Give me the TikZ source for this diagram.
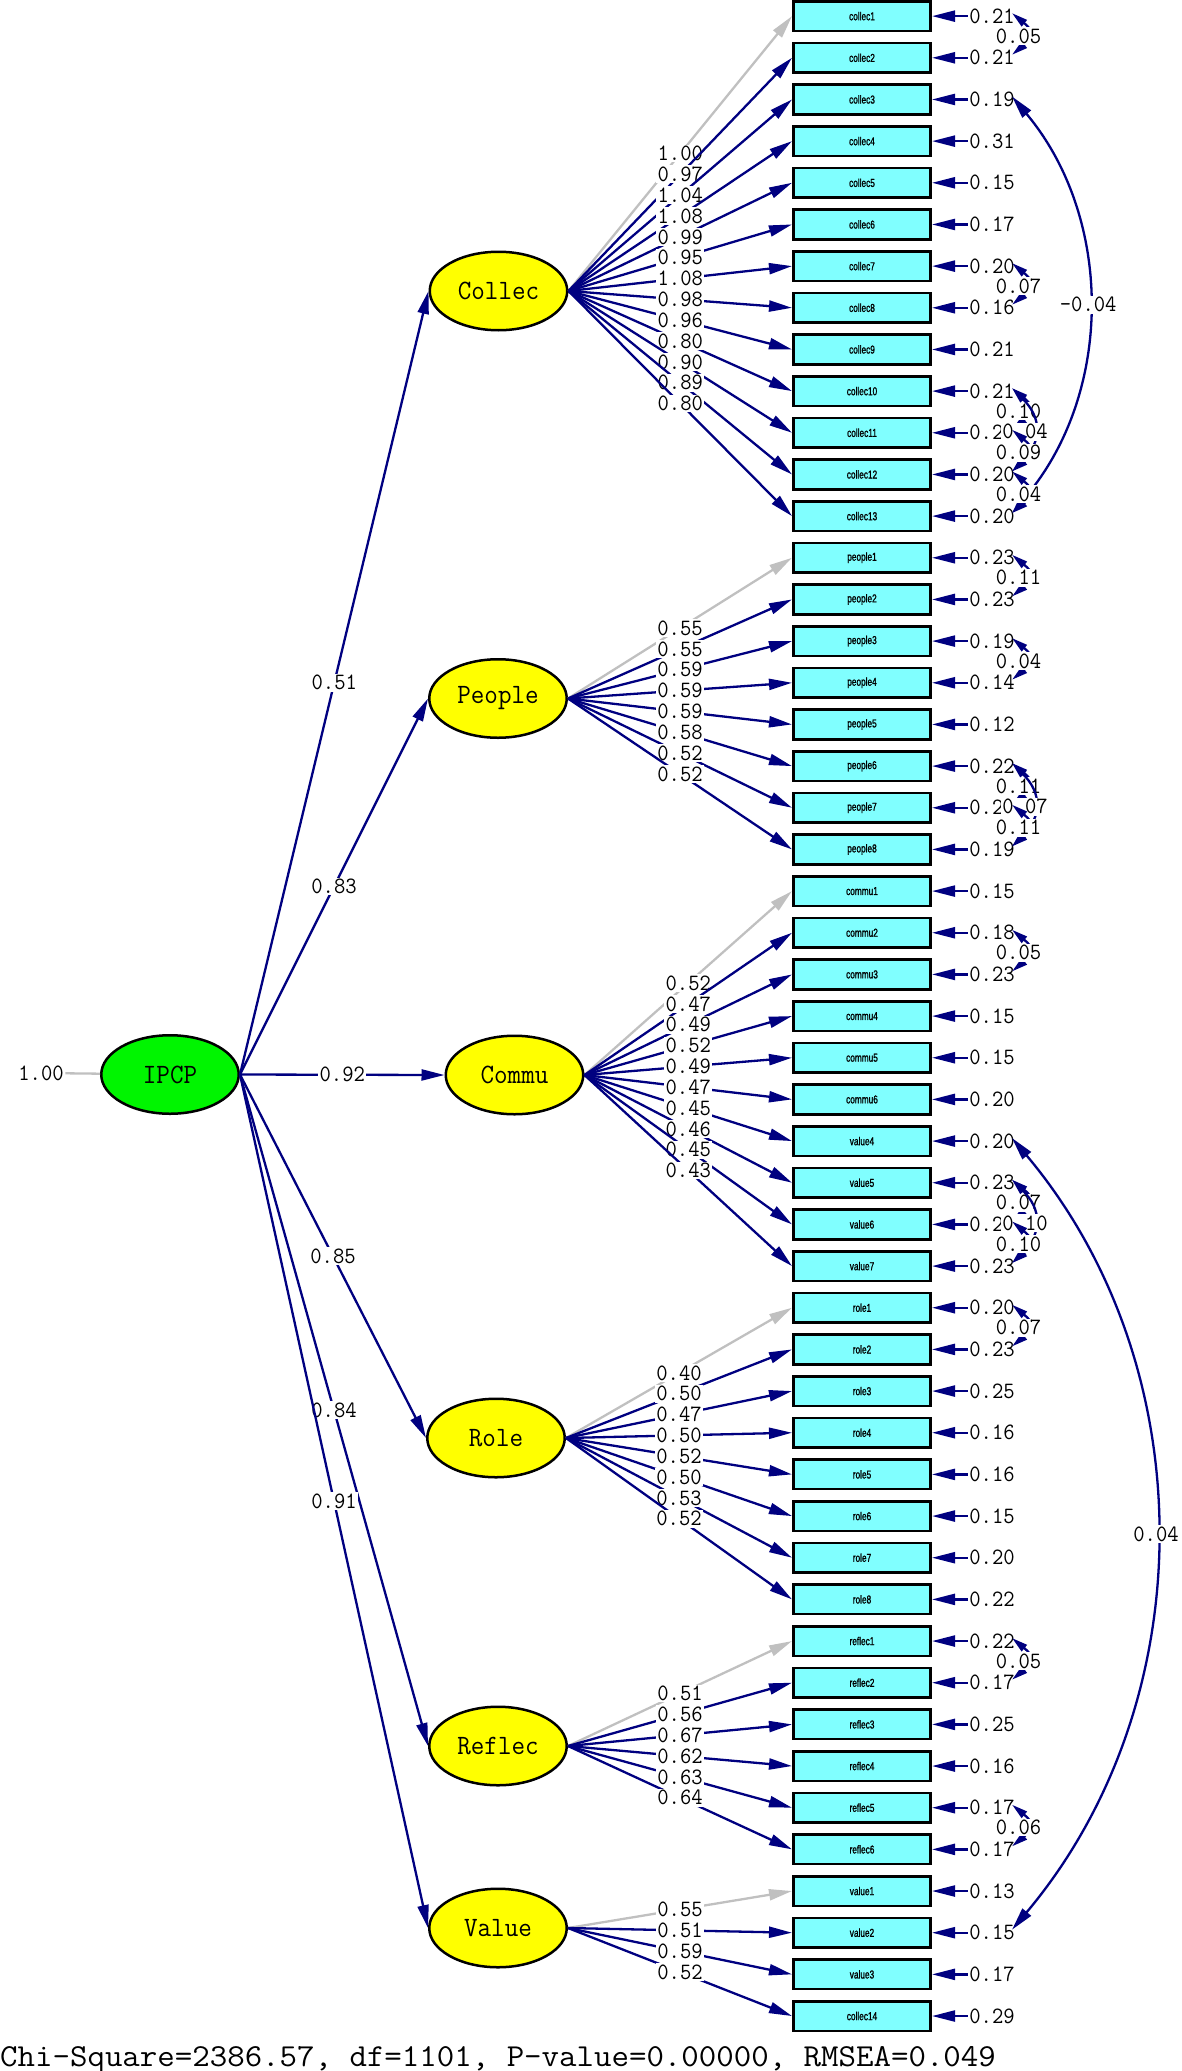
\documentclass[tikz,border=0pt]{standalone}
\usepackage{fontspec}
\usetikzlibrary{arrows.meta,shapes.geometric}
\newfontfamily\labfont[FakeStretch=0.94]{Latin Modern Mono}
\newfontfamily\fitfont[FakeStretch=1.06]{Latin Modern Mono}
\newfontfamily\obsfont[FakeStretch=0.72,FakeBold=1.2]{Liberation Sans}
\definecolor{navy}{RGB}{0,0,128}
\definecolor{fixgrey}{RGB}{192,192,192}
\definecolor{boxcyan}{RGB}{128,255,255}
\definecolor{latyellow}{RGB}{255,255,0}
\definecolor{latgreen}{RGB}{0,245,0}
\begin{document}
\begin{tikzpicture}[x=1pt,y=-1pt,
  obs/.style={draw=black, line width=2.6pt, fill=boxcyan, minimum width=137.4pt, minimum height=29.6pt, inner sep=0pt, font=\obsfont\fontsize{11.5}{11.5}\selectfont},
  lat/.style={ellipse, draw=black, line width=2.5pt, fill=latyellow, minimum width=137.5pt, minimum height=78.5pt, inner sep=0pt, font=\labfont\fontsize{28}{30}\selectfont},
  num/.style={inner sep=1.5pt, font=\labfont\fontsize{23.4}{24}\selectfont},
  lv/.style={num, fill=white, pos=0.5},
  cvl/.style={num, fill=white},
  load/.style={line width=2.3pt, -{Triangle[length=23pt,width=11pt]}},
  cov/.style={draw=navy, line width=2.3pt, {Triangle[length=16pt,width=8pt]}-{Triangle[length=16pt,width=8pt]}},
  covbig/.style={draw=navy, line width=2.3pt, {Triangle[length=23pt,width=11pt]}-{Triangle[length=23pt,width=11pt]}}
]
\useasboundingbox (0,0) rectangle (1181,2071);

% observed variables, error variances
\foreach \i/\nm/\ev in {0/collec1/0.21, 1/collec2/0.21, 2/collec3/0.19, 3/collec4/0.31, 4/collec5/0.15, 5/collec6/0.17, 6/collec7/0.20, 7/collec8/0.16, 8/collec9/0.21, 9/collec10/0.21, 10/collec11/0.20, 11/collec12/0.20, 12/collec13/0.20,
  13/people1/0.23, 14/people2/0.23, 15/people3/0.19, 16/people4/0.14, 17/people5/0.12, 18/people6/0.22, 19/people7/0.20, 20/people8/0.19,
  21/commu1/0.15, 22/commu2/0.18, 23/commu3/0.23, 24/commu4/0.15, 25/commu5/0.15, 26/commu6/0.20,
  27/value4/0.20, 28/value5/0.23, 29/value6/0.20, 30/value7/0.23,
  31/role1/0.20, 32/role2/0.23, 33/role3/0.25, 34/role4/0.16, 35/role5/0.16, 36/role6/0.15, 37/role7/0.20, 38/role8/0.22,
  39/reflec1/0.22, 40/reflec2/0.17, 41/reflec3/0.25, 42/reflec4/0.16, 43/reflec5/0.17, 44/reflec6/0.17,
  45/value1/0.13, 46/value2/0.15, 47/value3/0.17, 48/collec14/0.29}{
  \node[obs] (b\i) at (862,{16.14+41.664*\i}) {\nm};
  \node[num] (e\i) at (992,{16.14+41.664*\i}) {\ev};
  \coordinate (c\i) at (1012,{13.14+41.664*\i});
  \draw[load, draw=navy] (e\i) -- (b\i);
}

% latent variables
\node[lat, fill=latgreen] (IPCP) at (170,1074.5) {IPCP};
\node[lat] (Collec) at (498.5,291) {Collec};
\node[lat] (People) at (498,698.5) {People};
\node[lat] (Commu) at (514.5,1075) {Commu};
\node[lat] (Role) at (496,1438) {Role};
\node[lat] (Reflec) at (498,1746) {Reflec};
\node[lat] (Value) at (498,1928) {Value};

\node[num] (ipcpv) at (41,1073) {1.00};
\draw[draw=fixgrey, line width=2.3pt] (ipcpv) -- (IPCP);

% second-order paths
\draw[load, draw=navy] (IPCP.east) -- node[lv]{0.51} (Collec.west);
\draw[load, draw=navy] (IPCP.east) -- node[lv]{0.83} (People.west);
\draw[load, draw=navy] (IPCP.east) -- node[lv]{0.92} (Commu.west);
\draw[load, draw=navy] (IPCP.east) -- node[lv]{0.85} (Role.west);
\draw[load, draw=navy] (IPCP.east) -- node[lv]{0.84} (Reflec.west);
\draw[load, draw=navy] (IPCP.east) -- node[lv]{0.91} (Value.west);

% loadings
\foreach \i/\v/\c in {0/1.00/fixgrey, 1/0.97/navy, 2/1.04/navy, 3/1.08/navy, 4/0.99/navy, 5/0.95/navy, 6/1.08/navy, 7/0.98/navy, 8/0.96/navy, 9/0.80/navy, 10/0.90/navy, 11/0.89/navy, 12/0.80/navy}
  \draw[load, draw=\c] (Collec.east) -- node[lv]{\v} (b\i.west);
\foreach \i/\v/\c in {13/0.55/fixgrey, 14/0.55/navy, 15/0.59/navy, 16/0.59/navy, 17/0.59/navy, 18/0.58/navy, 19/0.52/navy, 20/0.52/navy}
  \draw[load, draw=\c] (People.east) -- node[lv]{\v} (b\i.west);
\foreach \i/\v/\c in {21/0.52/fixgrey, 22/0.47/navy, 23/0.49/navy, 24/0.52/navy, 25/0.49/navy, 26/0.47/navy, 27/0.45/navy, 28/0.46/navy, 29/0.45/navy, 30/0.43/navy}
  \draw[load, draw=\c] (Commu.east) -- node[lv]{\v} (b\i.west);
\foreach \i/\v/\c in {31/0.40/fixgrey, 32/0.50/navy, 33/0.47/navy, 34/0.50/navy, 35/0.52/navy, 36/0.50/navy, 37/0.53/navy, 38/0.52/navy}
  \draw[load, draw=\c] (Role.east) -- node[lv]{\v} (b\i.west);
\foreach \i/\v/\c in {39/0.51/fixgrey, 40/0.56/navy, 41/0.67/navy, 42/0.62/navy, 43/0.63/navy, 44/0.64/navy}
  \draw[load, draw=\c] (Reflec.east) -- node[lv]{\v} (b\i.west);
\foreach \i/\v/\c in {45/0.55/fixgrey, 46/0.51/navy, 47/0.59/navy, 48/0.52/navy}
  \draw[load, draw=\c] (Value.east) -- node[lv]{\v} (b\i.west);

% error covariances
\foreach \a/\b/\v/\lx/\dx/\dy in {0/1/0.05/1018.5/22/18, 6/7/0.07/1018.5/22/18, 9/10/0.10/1018.5/22/18, 9/11/0.04/1025/30/30, 10/11/0.09/1018.5/22/18}{
  \draw[cov] (c\a) .. controls +(\dx,\dy) and +(\dx,-\dy) .. (c\b);
  \node[cvl] (cv\a-\b) at (\lx,{15.14+20.832*(\a+\b)}) {\v};
}
\draw[covbig] (c2) .. controls +(101.6,121.6) and +(101.6,-121.6) .. node[cvl] (cvbigA) {-0.04} (c12);
\foreach \a/\b/\v/\lx/\dx/\dy in {11/12/0.04/1018.5/22/18, 13/14/0.11/1018.5/22/18, 15/16/0.04/1018.5/22/18, 18/19/0.11/1018.5/22/18, 18/20/0.07/1025/30/30, 19/20/0.11/1018.5/22/18, 22/23/0.05/1018.5/22/18, 28/29/0.07/1018.5/22/18, 28/30/0.10/1025/30/30, 29/30/0.10/1018.5/22/18, 31/32/0.07/1018.5/22/18, 39/40/0.05/1018.5/22/18, 43/44/0.06/1018.5/22/18}{
  \draw[cov] (c\a) .. controls +(\dx,\dy) and +(\dx,-\dy) .. (c\b);
  \node[cvl] (cv\a-\b) at (\lx,{15.14+20.832*(\a+\b)}) {\v};
}
\draw[covbig] (c27) .. controls +(192,228.6) and +(192,-228.6) .. node[cvl] (cvbigB) {0.04} (c46);

% fit statistics
\node[anchor=base west, inner sep=0pt, font=\fitfont\fontsize{32}{33}\selectfont] (fit) at (0,2066) {Chi-Square=2386.57, df=1101, P-value=0.00000, RMSEA=0.049};
\end{tikzpicture}
\end{document}
